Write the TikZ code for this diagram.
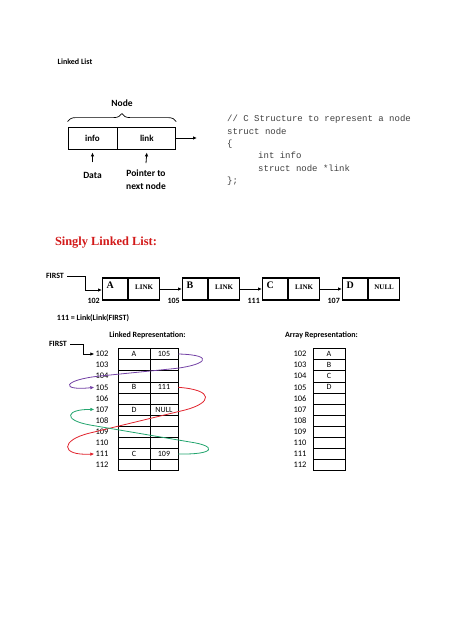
\documentclass[tikz,border=0pt]{standalone}
\usepackage{fontspec}
\setmainfont{Carlito}
\newfontfamily\timesfont{Liberation Serif}
\newfontfamily\codefont{Liberation Mono}
\usetikzlibrary{decorations.pathreplacing,arrows.meta}
\definecolor{listred}{RGB}{210,25,25}
\definecolor{curvepurple}{RGB}{115,65,165}
\definecolor{curvered}{RGB}{225,35,45}
\definecolor{curvegreen}{RGB}{35,165,110}
\tikzset{
	lbl/.style={font=\bfseries\fontsize{8}{9}\selectfont},
	biglbl/.style={font=\bfseries\fontsize{9.5}{13}\selectfont},
	cell/.style={draw,line width=0.8pt,minimum height=22pt,inner sep=0pt,font=\bfseries\fontsize{9}{10}\selectfont},
	infocell/.style={draw,line width=1.1pt,minimum height=22pt,minimum width=25pt,inner sep=0pt,text width=17pt,align=left,text depth=8pt,font=\timesfont\bfseries\fontsize{10}{11}\selectfont},
	linkcell/.style={draw,line width=1.1pt,minimum height=22pt,minimum width=31pt,inner sep=0pt,text depth=4pt,font=\timesfont\bfseries\fontsize{7}{8}\selectfont},
	tcell/.style={draw,line width=0.5pt,minimum height=11.1pt,inner sep=0pt,font=\fontsize{8}{9}\selectfont},
	addr/.style={inner sep=1pt,font=\fontsize{8.5}{9}\selectfont},
	curve/.style={line width=0.8pt,->}
}
\begin{document}
\begin{tikzpicture}[x=1pt,y=-1pt,>={Latex[length=4pt,width=3.5pt]}]
	\useasboundingbox (0,0) rectangle (474,632);
	\node[lbl] (title) at (75,62) {Linked List};
	% one node
	\node[cell,minimum width=49pt] (info) at (92.5,138) {info};
	\node[cell,minimum width=58pt,anchor=west] (link) at (info.east) {link};
	\coordinate (out) at (197,138);
	\draw[line width=0.8pt,->] (link.east)--(out);
	\draw[line width=0.7pt,decorate,decoration={brace,amplitude=8pt}] ([yshift=5pt]info.north west)--([yshift=5pt]link.north east);
	\node[biglbl] (nodelbl) at (122,103) {Node};
	\node[biglbl] (data) at (92.5,175) {Data};
	\node[biglbl,align=center] (ptr) at (146,179.5) {Pointer to\\next node};
	\draw[line width=0.8pt,->] ([yshift=6pt]data.north)--([yshift=-3pt]info.south);
	\draw[line width=0.8pt,->] ([yshift=3pt]ptr.north)--([yshift=-3pt]link.south);
	\node[anchor=north west,align=left,inner sep=0pt,text=black!75,font=\codefont\fontsize{9}{12.4}\selectfont] (code) at (227,115)
	{// C Structure to represent a node\\
	struct node\\
	\{\\
	\hspace*{31pt}int info\\
	\hspace*{31pt}struct node *link\\
	\};};
	% singly linked list
	\node[text=listred,font=\timesfont\bfseries\fontsize{12.4}{14}\selectfont] (sll) at (106,243) {Singly Linked List:};
	\foreach \nm/\ptr/\x/\adr in {A/LINK/102/102,B/LINK/182/105,C/LINK/262/111,D/NULL/342/107}
	{
		\node[infocell,anchor=west] (info\nm) at (\x,289) {\nm};
		\node[linkcell,anchor=west] (link\nm) at (info\nm.east) {\ptr};
		\node[lbl,left,inner sep=2pt] (adr\nm) at (info\nm.south west) {\adr};
	}
	\foreach \a/\b in {A/B,B/C,C/D}
	\draw[line width=0.8pt,->] (link\a.east)--(info\b.west);
	\node[lbl] (first) at (55,276) {FIRST};
	\coordinate (bend) at (85,276);
	\draw[line width=0.8pt,->] (first.east)--(bend)|-([yshift=-1pt]infoA.west);
	\node[lbl] (expr) at (93,318) {111 = Link(Link(FIRST)};
	% linked representation
	\node[lbl] (lrtitle) at (147.5,335) {Linked Representation:};
	\foreach \adr/\v/\p [count=\i from 0] in {102/A/105,103//,104//,105/B/111,106//,107/D/NULL,108//,109//,110//,111/C/109,112//}
	{
		\node[addr] (n\adr) at (102,{354+11.1*\i}) {\adr};
		\node[tcell,minimum width=32pt] (v\adr) at (134,{354+11.1*\i}) {\v};
		\node[tcell,minimum width=28pt] (p\adr) at (164,{354+11.1*\i}) {\p};
	}
	\node[lbl] (first2) at (58,344) {FIRST};
	\coordinate (bend2) at (83,344);
	\draw[line width=0.8pt,->] (first2.east)--(bend2)|-(n102.west);
	\draw[curve,curvepurple] (p102.east) .. controls (218,355) and (205,366) .. (170,369)--(100,376) .. controls (62,380) and (60,391) .. (n105.west);
	\draw[curve,curvered] (p105.east) .. controls (215,390) and (212,403) .. (185,410)--(90,433) .. controls (60,440) and (60,456) .. (n111.west);
	\draw[curve,curvegreen] (p111.east) .. controls (215,455) and (218,446) .. (190,442)--(90,425) .. controls (62,420) and (66,409) .. (n107.west);
	% array representation
	\node[lbl] (artitle) at (321.5,335) {Array Representation:};
	\foreach \adr/\v [count=\i from 0] in {102/A,103/B,104/C,105/D,106/,107/,108/,109/,110/,111/,112/}
	{
		\node[addr] (a\adr) at (300,{354+11.1*\i}) {\adr};
		\node[tcell,minimum width=32pt] (c\adr) at (329,{354+11.1*\i}) {\v};
	}
\end{tikzpicture}
\end{document}
